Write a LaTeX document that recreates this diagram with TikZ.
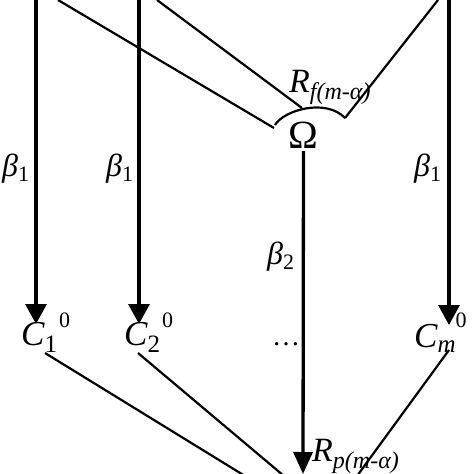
\documentclass[tikz,border=0pt]{standalone}
\usepackage{fontspec}
\setmainfont{Liberation Serif}
\usetikzlibrary{arrows.meta}
\newcommand\mybig[2]{{\fontsize{#1}{#1}\selectfont #2}}
\begin{document}
\begin{tikzpicture}[x=1pt,y=-1pt,
  vline/.style={line width=3.3pt},
  dline/.style={line width=2.2pt},
  tipA/.style={-{Triangle[width=21pt,length=20pt]}},
  tipB/.style={-{Triangle[width=19pt,length=22pt]}},
  lbl/.style={inner sep=0pt,anchor=base west}]
\useasboundingbox (0,0) rectangle (474,474);
% free ends and points
\coordinate (t1) at (36,0);
\coordinate (t2) at (139,0);
\coordinate (t3) at (449,0);
\coordinate (a1) at (36,324);
\coordinate (a2) at (139,324);
\coordinate (a3) at (449,325);
\coordinate (d1) at (58,0);
\coordinate (d2) at (157,0);
\coordinate (d3) at (438,0);
\coordinate (e1) at (274,128);
\coordinate (e2) at (302,108);
\coordinate (e3) at (345,118);
\coordinate (arcL) at (275,125);
\coordinate (u1) at (45,353);
\coordinate (u2) at (138,353);
\coordinate (u3) at (449,350);
\coordinate (w1) at (245,476);
\coordinate (w2) at (284,476);
\coordinate (w3) at (357,476);
\coordinate (mt) at (303,474);
% nodes
\node[inner sep=0pt,anchor=base] (om) at (303.5,148) {\mybig{40}{\symbol{"03A9}}};
\node[lbl] (rf) at (289,92) {\mybig{34}{\itshape R}\raisebox{-7pt}{\mybig{24}{\itshape f(m-α)}}};
\node[lbl] (rp) at (312,461) {\mybig{34}{\itshape R}\raisebox{-7pt}{\mybig{24}{\itshape p(m-α)}}};
\node[lbl] (b1) at (2,176) {\mybig{32}{\itshape β}\raisebox{-5pt}{\mybig{22}{1}}};
\node[lbl] (b2) at (106,176) {\mybig{32}{\itshape β}\raisebox{-5pt}{\mybig{22}{1}}};
\node[lbl] (b3) at (414,176) {\mybig{32}{\itshape β}\raisebox{-5pt}{\mybig{22}{1}}};
\node[lbl] (b4) at (267,264) {\mybig{32}{\itshape β}\raisebox{-5pt}{\mybig{22}{2}}};
\node[lbl] (c1) at (21,345) {\mybig{35}{\itshape C}\raisebox{-7pt}{\mybig{25}{1}}\kern2pt\raisebox{18pt}{\mybig{22}{0}}};
\node[lbl] (c2) at (124,345) {\mybig{35}{\itshape C}\raisebox{-7pt}{\mybig{25}{2}}\kern2pt\raisebox{18pt}{\mybig{22}{0}}};
\node[lbl] (cm) at (414,347) {\mybig{35}{\itshape C}\raisebox{-5pt}{\mybig{25}{\itshape m}}\raisebox{20pt}{\mybig{22}{0}}};
\node[lbl] (dots) at (272,345) {\mybig{28}{…}};
% verticals
\draw[vline,tipA] (t1) -- (a1);
\draw[vline,tipA] (t2) -- (a2);
\draw[vline,tipA] (t3) -- (a3);
\draw[vline,tipB] ([yshift=-3pt]om.south) -- (mt);
% upper diagonals and arc
\draw[dline] (d1) -- (e1);
\draw[dline] (d2) -- (e2);
\draw[dline] (d3) -- (e3);
\draw[dline] (arcL) .. controls (284,110) and (326,98) .. (e3);
% lower diagonals
\draw[dline] (u1) -- (w1);
\draw[dline] (u2) -- (w2);
\draw[dline] (u3) -- (w3);
\end{tikzpicture}
\end{document}
